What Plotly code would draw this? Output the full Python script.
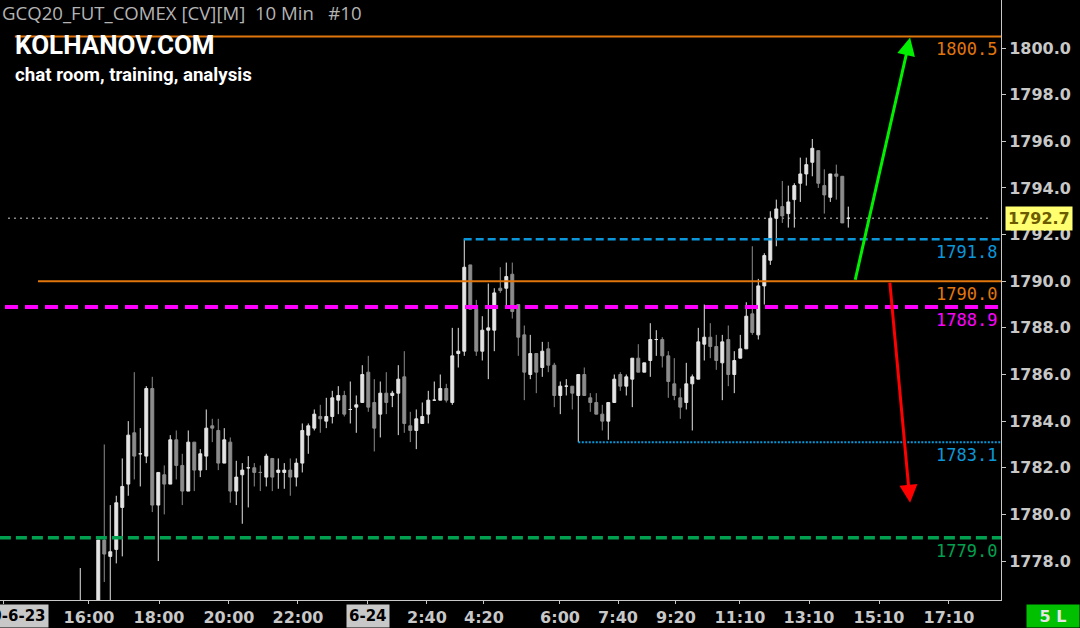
import plotly.graph_objects as go

# ---------------- data ----------------
bar_index = [0, 3, 4, 5, 6, 7, 8, 9, 10, 11, 12, 13, 14, 15, 16, 17, 18, 19, 20, 21, 22, 23, 24, 25, 26, 27, 28,
             29, 30, 31, 32, 33, 34, 35, 36, 37, 38, 39, 40, 41, 42, 43, 44, 45, 46, 47, 48, 49, 50, 51, 52, 53,
             54, 55, 56, 57, 58, 59, 60, 61, 62, 63, 64, 65, 66, 67, 68, 69, 70, 71, 72, 73, 74, 75, 76, 77, 78,
             79, 80, 81, 82, 83, 84, 85, 86, 87, 88, 89, 90, 91, 92, 93, 94, 95, 96, 97, 98, 99, 100, 101, 102,
             103, 104, 105, 106, 107, 108, 109, 110, 111, 112, 113, 114, 115, 116, 117, 118, 119, 120, 121, 122,
             123, 124, 125, 126, 127, 128]

opens = [1775.6, 1775.9, 1778.9, 1778.2, 1778.5, 1780.3, 1781.3, 1783.5, 1782.6, 1782.5, 1785.4, 1780.4, 1781.7,
         1781.3, 1783.2, 1782.1, 1781.0, 1783.1, 1781.9, 1782.5, 1783.8, 1783.6, 1782.2, 1783.1, 1781.0, 1781.7,
         1782.0, 1782.0, 1781.8, 1781.6, 1782.4, 1781.8, 1781.8, 1781.9, 1781.6, 1782.2, 1783.4, 1783.7, 1784.2,
         1784.0, 1784.2, 1784.9, 1785.1, 1784.5, 1784.6, 1784.8, 1786.1, 1784.8, 1784.3, 1785.2, 1785.1, 1785.2,
         1785.9, 1783.8, 1783.6, 1783.9, 1784.3, 1784.9, 1784.9, 1785.4, 1784.8, 1786.9, 1787.0, 1790.7, 1788.8,
         1787.0, 1787.9, 1787.9, 1789.7, 1789.7, 1790.3, 1789.0, 1787.7, 1786.0, 1786.9, 1786.3, 1787.1, 1786.4,
         1785.1, 1785.5, 1785.5, 1785.1, 1786.0, 1785.0, 1784.8, 1784.3, 1784.0, 1784.8, 1786.0, 1785.5, 1785.8,
         1786.7, 1786.1, 1786.6, 1787.5, 1787.5, 1786.8, 1785.6, 1785.0, 1784.8, 1785.6, 1785.8, 1787.3, 1787.6,
         1787.2, 1786.5, 1787.5, 1786.0, 1786.7, 1787.1, 1788.6, 1787.7, 1789.8, 1790.9, 1792.7, 1793.2, 1792.9,
         1793.5, 1794.2, 1794.6, 1795.1, 1795.6, 1794.1, 1793.6, 1794.6, 1794.5, 1792.7]

highs = [1777.7, 1778.9, 1783.0, 1780.4, 1780.8, 1782.4, 1784.0, 1786.1, 1783.7, 1785.5, 1785.9, 1781.8, 1782.1,
         1783.4, 1783.6, 1782.6, 1783.6, 1783.1, 1782.8, 1784.5, 1784.1, 1784.1, 1783.7, 1783.3, 1782.3, 1782.2,
         1782.5, 1782.2, 1782.1, 1782.6, 1782.4, 1782.4, 1782.2, 1782.4, 1782.4, 1783.9, 1783.9, 1784.5, 1784.7,
         1785.0, 1785.3, 1785.5, 1785.3, 1785.7, 1785.1, 1786.4, 1786.8, 1785.8, 1785.7, 1786.1, 1785.3, 1786.4,
         1787.0, 1784.4, 1784.5, 1784.8, 1785.3, 1785.7, 1786.0, 1785.6, 1788.0, 1788.0, 1791.8, 1790.7, 1789.2,
         1788.5, 1789.9, 1789.7, 1790.6, 1790.8, 1790.8, 1789.0, 1788.1, 1787.7, 1786.9, 1787.4, 1787.4, 1786.5,
         1785.7, 1785.8, 1785.5, 1786.0, 1786.3, 1785.2, 1785.2, 1784.7, 1784.8, 1786.0, 1786.1, 1786.0, 1786.7,
         1787.3, 1786.5, 1788.2, 1787.9, 1787.6, 1787.0, 1786.7, 1785.4, 1786.5, 1786.0, 1788.0, 1789.0, 1788.2,
         1787.7, 1787.7, 1788.1, 1787.0, 1787.7, 1789.1, 1791.5, 1790.1, 1791.2, 1793.0, 1793.5, 1794.3, 1794.1,
         1794.2, 1795.3, 1795.3, 1796.1, 1795.6, 1794.8, 1794.6, 1795.0, 1794.5, 1793.2]

lows = [1775.3, 1775.6, 1777.1, 1776.2, 1777.9, 1778.2, 1780.8, 1781.5, 1781.2, 1782.2, 1780.1, 1778.0, 1780.0,
        1781.3, 1781.5, 1780.4, 1781.0, 1781.0, 1781.6, 1781.9, 1783.1, 1781.9, 1782.2, 1780.5, 1780.4, 1779.6,
        1780.3, 1781.2, 1781.0, 1781.2, 1781.0, 1781.1, 1781.1, 1780.8, 1781.2, 1781.8, 1782.6, 1783.6, 1783.5,
        1783.7, 1783.9, 1784.3, 1784.2, 1783.9, 1783.5, 1784.8, 1784.4, 1782.7, 1783.3, 1784.3, 1784.6, 1783.4,
        1783.5, 1783.1, 1782.8, 1783.9, 1783.9, 1784.9, 1784.9, 1784.8, 1784.7, 1786.3, 1786.8, 1788.8, 1786.8,
        1786.6, 1785.8, 1787.0, 1789.5, 1788.9, 1788.4, 1786.8, 1784.9, 1785.8, 1785.2, 1785.9, 1786.1, 1784.6,
        1784.3, 1785.1, 1784.5, 1783.1, 1785.1, 1784.4, 1784.3, 1783.6, 1783.2, 1784.8, 1785.3, 1785.1, 1784.6,
        1786.1, 1786.1, 1785.9, 1786.8, 1786.3, 1785.0, 1784.9, 1784.1, 1784.5, 1783.6, 1785.8, 1786.6, 1786.7,
        1786.2, 1784.9, 1785.5, 1785.2, 1786.7, 1787.1, 1787.7, 1787.5, 1789.0, 1790.7, 1791.5, 1792.5, 1792.3,
        1792.3, 1793.4, 1794.1, 1794.5, 1794.0, 1792.9, 1793.4, 1793.5, 1792.5, 1792.3]

closes = [1776.0, 1778.9, 1778.3, 1778.4, 1780.5, 1781.2, 1783.4, 1782.5, 1782.6, 1785.4, 1780.4, 1781.8, 1781.3,
          1783.2, 1782.1, 1781.0, 1783.1, 1781.9, 1782.6, 1783.7, 1783.7, 1782.2, 1783.2, 1781.0, 1781.6, 1781.9,
          1782.0, 1781.8, 1781.8, 1782.5, 1781.6, 1781.9, 1781.9, 1781.6, 1782.2, 1783.6, 1783.8, 1784.3, 1784.1,
          1784.2, 1785.0, 1785.1, 1784.3, 1784.5, 1784.7, 1786.0, 1784.6, 1783.7, 1785.2, 1784.8, 1785.2, 1785.8,
          1783.9, 1783.6, 1784.1, 1784.2, 1784.9, 1784.9, 1785.4, 1784.9, 1786.8, 1787.0, 1790.6, 1788.8, 1787.0,
          1787.9, 1788.0, 1789.5, 1789.6, 1790.2, 1788.7, 1787.6, 1786.1, 1786.9, 1786.1, 1787.0, 1786.4, 1785.1,
          1785.5, 1785.5, 1785.2, 1786.0, 1785.1, 1784.8, 1784.3, 1784.0, 1784.8, 1785.8, 1785.5, 1785.9, 1786.7,
          1786.1, 1786.5, 1787.5, 1787.5, 1786.8, 1785.7, 1785.1, 1784.6, 1785.6, 1785.9, 1787.4, 1787.6, 1787.2,
          1786.6, 1787.4, 1786.0, 1786.6, 1787.1, 1788.5, 1787.8, 1789.8, 1791.1, 1792.7, 1793.1, 1792.8, 1793.4,
          1794.1, 1794.6, 1795.0, 1795.7, 1794.2, 1793.7, 1794.6, 1794.5, 1792.5, 1792.7]

tick_pos = [-12.88, 1.45, 13.12, 24.78, 36.28, 47.95, 57.78, 67.28, 79.95, 89.62, 99.28, 109.95, 121.45, 133.12, 144.78]
tick_text = ["", "16:00", "18:00", "20:00", "22:00", "", "2:40", "4:20", "6:00", "7:40", "9:20", "11:10", "13:10",
             "15:10", "17:10"]
date_labels = ["2020-6-23", "6-24"]
date_pos = [-12.88, 47.95]

y_ticks = [1778.0, 1780.0, 1782.0, 1784.0, 1786.0, 1788.0, 1790.0, 1792.0, 1794.0, 1796.0, 1798.0, 1800.0]

level_values = [1800.5, 1791.8, 1790.0, 1788.9, 1783.1, 1779.0]
last_price = 1792.7

# arrows: (tail_x, tail_y, head_x, head_y)
up_arrow = (129.1, 1790.0, 138.3, 1800.45)
down_arrow = (134.9, 1790.0, 138.3, 1780.5)

# ---------------- styles ----------------
level_styles = [
    dict(color="#e0760c", width=2, dash="solid", start=-10.9),
    dict(color="#0a96d8", width=2.5, dash="8px,4px", start=63.9),
    dict(color="#e0760c", width=2, dash="solid", start=-7.05),
    dict(color="#ff00ff", width=4, dash="13px,7px", start=-12.55),
    dict(color="#0a96d8", width=2, dash="2px,1.5px", start=83.0),
    dict(color="#00a050", width=3.5, dash="11px,5px", start=-13.4),
]

X_MIN, X_MAX = -13.38, 153.45
Y_MIN, Y_MAX = 1776.33, 1802.06
AXIS_FONT = "DejaVu Sans"

fig = go.Figure()
fig.add_trace(go.Candlestick(
    x=bar_index, open=opens, high=highs, low=lows, close=closes,
    increasing=dict(line=dict(color="#e4e4e4", width=1), fillcolor="#e4e4e4"),
    decreasing=dict(line=dict(color="#8c8c8c", width=1), fillcolor="#8c8c8c"),
    whiskerwidth=0, hoverinfo="skip", showlegend=False,
))

# last-price dotted line
fig.add_shape(type="line", xref="x", yref="y", x0=-12.05, x1=151.6, y0=last_price, y1=last_price,
              line=dict(color="#8a8a8a", width=1.5, dash="2px,4px"), layer="below")

for val, st in zip(level_values, level_styles):
    fig.add_shape(type="line", xref="x", yref="y", x0=st["start"], x1=X_MAX, y0=val, y1=val,
                  line=dict(color=st["color"], width=st["width"], dash=st["dash"]))
    fig.add_annotation(xref="paper", yref="y", x=0.998, y=val, text=f"{val:.1f}", showarrow=False,
                       xanchor="right", yanchor="middle", yshift=-13,
                       font=dict(family="DejaVu Sans Mono", size=17, color=st["color"]))

for (tx, ty, hx, hy), col in [(up_arrow, "#00f000"), (down_arrow, "#ff0000")]:
    fig.add_annotation(xref="x", yref="y", axref="x", ayref="y", x=hx, y=hy, ax=tx, ay=ty, text="",
                       showarrow=True, arrowhead=2, arrowsize=1.2, arrowwidth=3, arrowcolor=col)

# current price box
fig.add_annotation(xref="paper", yref="y", x=1.0, y=last_price, xanchor="left", yanchor="middle", xshift=4,
                   text=f"<b>{last_price:.1f}</b>", showarrow=False, bgcolor="#ffff70", borderpad=2,
                   font=dict(family=AXIS_FONT, size=16, color="#6b5a00"))

# date boxes on the time axis
for lbl, pos in zip(date_labels, date_pos):
    fig.add_annotation(xref="x", yref="paper", x=pos, y=0, yanchor="top", yshift=-4, text=f"<b>{lbl}</b>",
                       showarrow=False, bgcolor="#c8c8c8", borderpad=2,
                       font=dict(family=AXIS_FONT, size=15, color="#000000"))

# "5 L" badge
fig.add_annotation(xref="paper", yref="paper", x=1.0 + 25 / 1001, y=0, xanchor="left", yanchor="top", yshift=-4,
                   text="<b>5 L</b>", showarrow=False, bgcolor="#00c000", width=50, height=20, borderpad=1,
                   font=dict(family=AXIS_FONT, size=16, color="#e6e6e6"))

# titles
fig.add_annotation(xref="paper", yref="paper", x=0, y=1, xanchor="left", yanchor="top", xshift=0, yshift=2,
                   text="GCQ20_FUT_COMEX [CV][M]\u00a0\u00a010 Min\u00a0\u00a0\u00a0#10", showarrow=False,
                   font=dict(family="Open Sans", size=18.6, color="#b4b4b4"))
fig.add_annotation(xref="paper", yref="paper", x=0, y=1, xanchor="left", yanchor="top", xshift=13, yshift=-28,
                   text="<b>KOLHANOV.COM</b>", showarrow=False,
                   font=dict(family="Roboto", size=26, color="#ffffff"))
fig.add_annotation(xref="paper", yref="paper", x=0, y=1, xanchor="left", yanchor="top", xshift=13, yshift=-62,
                   text="<b>chat room, training, analysis</b>", showarrow=False,
                   font=dict(family="Roboto", size=18.7, color="#ffffff"))

fig.update_layout(
    width=1080, height=628,
    paper_bgcolor="#000000", plot_bgcolor="#000000",
    margin=dict(l=0, r=79, t=0, b=28),
    showlegend=False,
    xaxis=dict(range=[X_MIN, X_MAX], rangeslider=dict(visible=False), showgrid=False, zeroline=False,
               showline=True, linecolor="#c8c8c8", linewidth=1, ticks="outside", ticklen=3,
               tickcolor="#c8c8c8", tickvals=tick_pos, ticktext=tick_text,
               tickfont=dict(family=AXIS_FONT, size=16, color="#c8c8c8", weight="bold")),
    yaxis=dict(range=[Y_MIN, Y_MAX], side="right", showgrid=False, zeroline=False, showline=True,
               linecolor="#c8c8c8", linewidth=1, ticks="outside", ticklen=4, tickcolor="#c8c8c8",
               tickvals=y_ticks, tickformat=".1f",
               tickfont=dict(family=AXIS_FONT, size=16, color="#c8c8c8", weight="bold")),
)

fig.write_html("out.html", config={"displayModeBar": False},
               post_script="document.body.style.margin='0';")
